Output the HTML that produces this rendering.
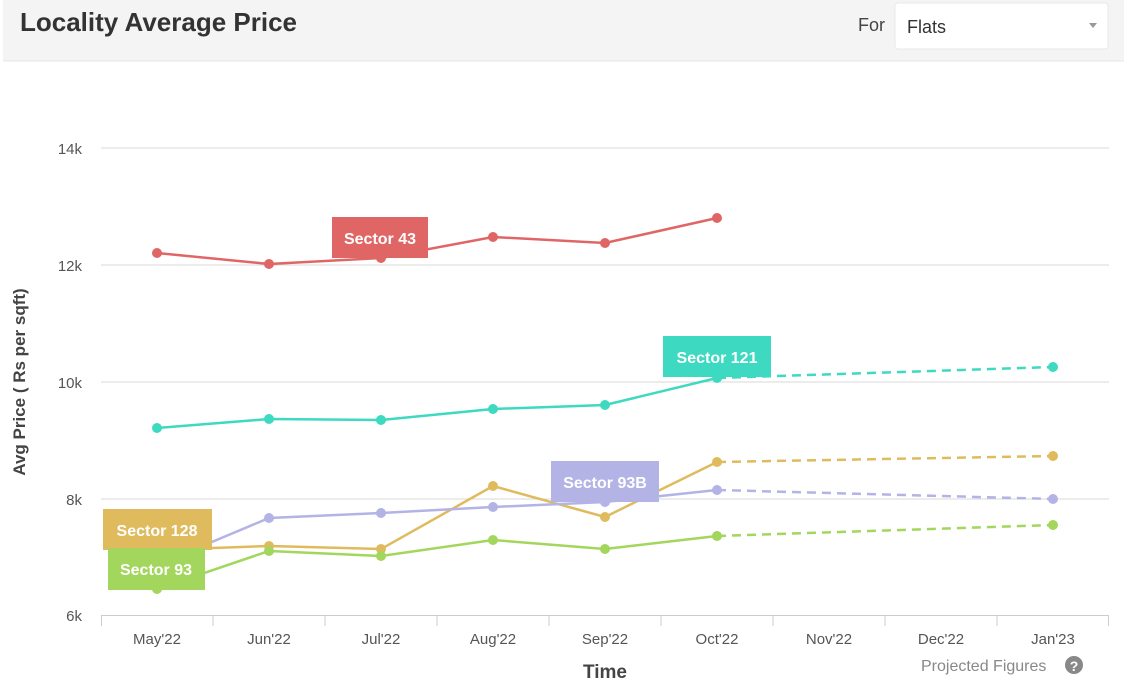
<!DOCTYPE html>
<html><head><meta charset="utf-8"><style>
html,body{margin:0;padding:0;background:#fff;width:1127px;height:693px;overflow:hidden;font-family:"Liberation Sans",sans-serif}
</style></head><body>
<svg width="1127" height="693" xmlns="http://www.w3.org/2000/svg" font-family="Liberation Sans, sans-serif">
<rect x="3" y="0" width="1121" height="61" fill="#f4f4f4"/>
<line x1="3" y1="61" x2="1124" y2="61" stroke="#e6e6e6"/>
<text x="20" y="31" font-size="26" font-weight="bold" fill="#333">Locality Average Price</text>
<text x="858" y="31" font-size="18" fill="#444">For</text>
<rect x="895" y="3" width="213" height="46" rx="3" fill="#fff" stroke="#e8e8e8"/>
<text x="907" y="33" font-size="18" fill="#333">Flats</text>
<path d="M1089 23 l8 0 l-4 5z" fill="#999"/>
<g stroke="#d8d8d8" stroke-width="1">
<line x1="101" y1="148" x2="1109" y2="148"/><line x1="101" y1="265" x2="1109" y2="265"/>
<line x1="101" y1="382" x2="1109" y2="382"/><line x1="101" y1="499" x2="1109" y2="499"/>
</g>
<line x1="101" y1="615.5" x2="1109" y2="615.5" stroke="#ccc"/>
<g stroke="#ccc"><line x1="101.5" y1="615" x2="101.5" y2="626"/><line x1="213" y1="615" x2="213" y2="626"/><line x1="325" y1="615" x2="325" y2="626"/><line x1="437" y1="615" x2="437" y2="626"/><line x1="549" y1="615" x2="549" y2="626"/><line x1="661" y1="615" x2="661" y2="626"/><line x1="773" y1="615" x2="773" y2="626"/><line x1="885" y1="615" x2="885" y2="626"/><line x1="997" y1="615" x2="997" y2="626"/><line x1="1108.5" y1="615" x2="1108.5" y2="626"/></g>
<g font-size="15" fill="#555" text-anchor="end"><text x="82" y="154">14k</text><text x="82" y="271">12k</text><text x="82" y="388">10k</text><text x="82" y="505">8k</text><text x="82" y="621">6k</text></g>
<g font-size="15" fill="#555" text-anchor="middle"><text x="157" y="644">May'22</text><text x="269" y="644">Jun'22</text><text x="381" y="644">Jul'22</text><text x="493" y="644">Aug'22</text><text x="605" y="644">Sep'22</text><text x="717" y="644">Oct'22</text><text x="829" y="644">Nov'22</text><text x="941" y="644">Dec'22</text><text x="1053" y="644">Jan'23</text></g>
<text x="605" y="678" font-size="19" font-weight="bold" fill="#444" text-anchor="middle">Time</text>
<text transform="translate(25,382) rotate(-90)" font-size="17" font-weight="bold" fill="#444" text-anchor="middle">Avg Price ( Rs per sqft)</text>
<text x="921" y="671" font-size="16" fill="#888">Projected Figures</text>
<circle cx="1074" cy="665" r="9" fill="#888"/><text x="1074" y="671" font-size="14" font-weight="bold" fill="#fff" text-anchor="middle">?</text>
<g fill="none" stroke-width="2.5">
<polyline stroke="#e06666" points="157,253 269,264 381,258 493,237 605,243 717,218"/>
<polyline stroke="#3dd9c1" points="157,428 269,419 381,420 493,409 605,405 717,378"/>
<polyline stroke="#3dd9c1" stroke-dasharray="9,6" points="717,378 1053,367"/>
<polyline stroke="#e0bb5e" points="157,550 269,546 381,549 493,486 605,517 717,462"/>
<polyline stroke="#e0bb5e" stroke-dasharray="9,6" points="717,462 1053,456"/>
<polyline stroke="#b3b3e6" points="157,565 269,518 381,513 493,507 605,502 717,490"/>
<polyline stroke="#b3b3e6" stroke-dasharray="9,6" points="717,490 1053,499"/>
<polyline stroke="#a3d65c" points="157,589 269,551 381,556 493,540 605,549 717,536"/>
<polyline stroke="#a3d65c" stroke-dasharray="9,6" points="717,536 1053,525"/>
</g>
<g fill="#e06666"><circle cx="157" cy="253" r="5"/><circle cx="269" cy="264" r="5"/><circle cx="381" cy="258" r="5"/><circle cx="493" cy="237" r="5"/><circle cx="605" cy="243" r="5"/><circle cx="717" cy="218" r="5"/></g>
<g fill="#3dd9c1"><circle cx="157" cy="428" r="5"/><circle cx="269" cy="419" r="5"/><circle cx="381" cy="420" r="5"/><circle cx="493" cy="409" r="5"/><circle cx="605" cy="405" r="5"/><circle cx="717" cy="378" r="5"/><circle cx="1053" cy="367" r="5"/></g>
<g fill="#e0bb5e"><circle cx="269" cy="546" r="5"/><circle cx="381" cy="549" r="5"/><circle cx="493" cy="486" r="5"/><circle cx="605" cy="517" r="5"/><circle cx="717" cy="462" r="5"/><circle cx="1053" cy="456" r="5"/></g>
<g fill="#b3b3e6"><circle cx="269" cy="518" r="5"/><circle cx="381" cy="513" r="5"/><circle cx="493" cy="507" r="5"/><circle cx="605" cy="502" r="5"/><circle cx="717" cy="490" r="5"/><circle cx="1053" cy="499" r="5"/></g>
<g fill="#a3d65c"><circle cx="157" cy="589" r="5"/><circle cx="269" cy="551" r="5"/><circle cx="381" cy="556" r="5"/><circle cx="493" cy="540" r="5"/><circle cx="605" cy="549" r="5"/><circle cx="717" cy="536" r="5"/><circle cx="1053" cy="525" r="5"/></g>
<g font-size="16" font-weight="bold" fill="#fff" text-anchor="middle">
<rect x="332" y="217" width="96" height="41" fill="#e06666"/><text x="380" y="244">Sector 43</text>
<rect x="663" y="336" width="108" height="41" fill="#3dd9c1"/><text x="717" y="363">Sector 121</text>
<rect x="551" y="461" width="108" height="41" fill="#b3b3e6"/><text x="605" y="488">Sector 93B</text>
<rect x="103" y="509" width="109" height="41" fill="#e0bb5e"/><text x="157" y="536">Sector 128</text>
<rect x="108" y="548" width="97" height="42" fill="#a3d65c"/><text x="156" y="575">Sector 93</text>
</g>
</svg>
</body></html>
